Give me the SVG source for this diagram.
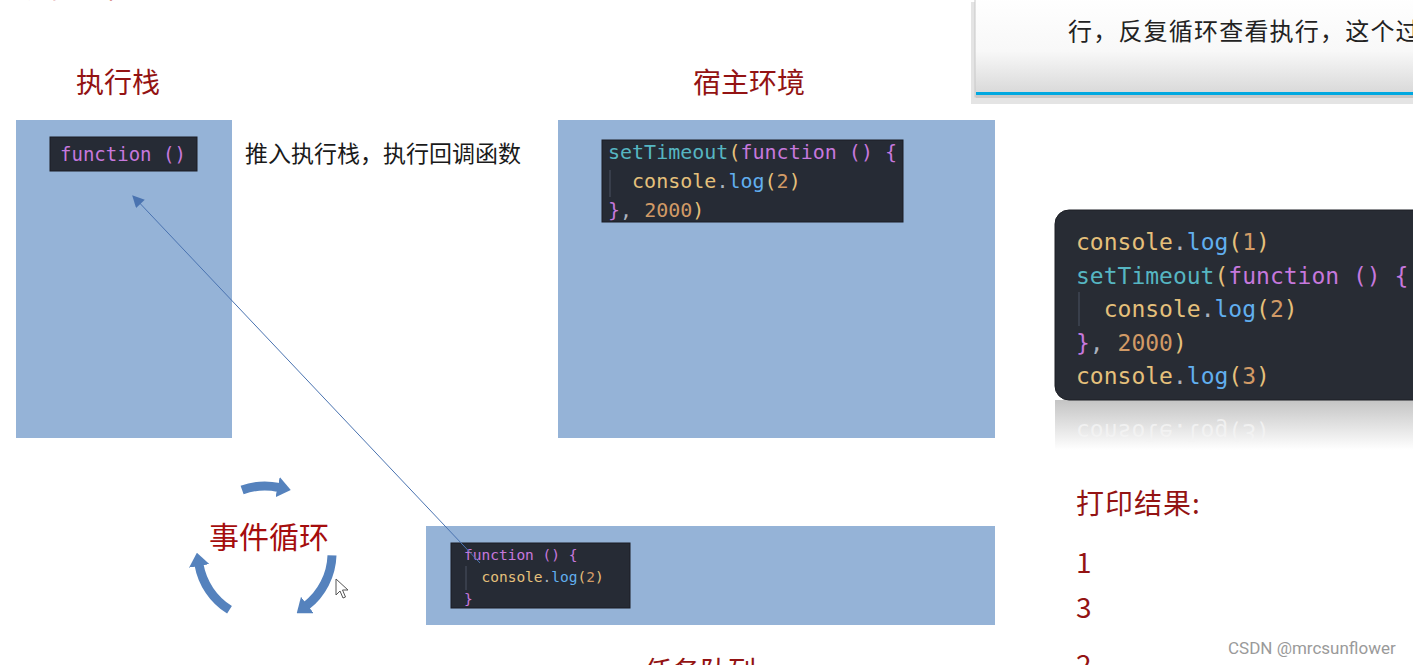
<svg xmlns="http://www.w3.org/2000/svg" width="1413" height="665" viewBox="0 0 1413 665">
<defs>
<style>
.title{font-family:"Noto Sans CJK SC","Noto Sans",sans-serif;fill:#931313;font-size:28px}
.cn{font-family:"Noto Sans CJK SC","Noto Sans",sans-serif;fill:#1a1a1a}
.panel{fill:#95b3d7}
.code{fill:#262b35}
.mono{font-family:"DejaVu Sans Mono","Liberation Mono",monospace}
.g{fill:#e5c07b}.t{fill:#56b6c2}.p{fill:#c678dd}.b{fill:#61afef}.o{fill:#d19a66}.w{fill:#abb2bf}
.loop{fill:none;stroke:#5582bd;stroke-width:9}
</style>
<marker id="bigHead" viewBox="0 0 10 10" refX="1" refY="5" markerWidth="1.5" markerHeight="2.3" orient="auto" preserveAspectRatio="none">
<path d="M0,0 L10,5 L0,10 z" fill="#5582bd"/>
</marker>
<marker id="thinHead" viewBox="0 0 10 10" refX="9" refY="5" markerWidth="14" markerHeight="12" markerUnits="userSpaceOnUse" orient="auto">
<path d="M0,0 L10,5 L0,10 z" fill="#4a73b0"/>
</marker>
<linearGradient id="popGrad" x1="0" y1="0" x2="0" y2="1">
<stop offset="0" stop-color="#ffffff"/>
<stop offset="0.55" stop-color="#f8f8f8"/>
<stop offset="1" stop-color="#d6d6d6"/>
</linearGradient>
<linearGradient id="reflGrad" x1="0" y1="0" x2="0" y2="1">
<stop offset="0" stop-color="#c4c4c4"/>
<stop offset="1" stop-color="#ffffff"/>
</linearGradient>
</defs>
<rect x="0" y="0" width="1413" height="665" fill="#ffffff"/>

<g id="page-title">
<text class="title" x="20" y="-2" style="fill:#c0302a">执行过程</text>
</g>

<g id="exec-stack">
<text class="title" x="118" y="93" text-anchor="middle">执行栈</text>
<rect class="panel" x="16" y="120" width="216" height="318"/>
<rect class="code" x="50" y="137" width="147" height="34" stroke="#1a1d24" stroke-width="1"/>
<text class="mono p" x="60" y="161" font-size="19">function ()</text>
</g>

<g id="push-label">
<text class="cn" x="245" y="162" font-size="23">推入执行栈，执行回调函数</text>
</g>

<g id="host-env">
<text class="title" x="749" y="93" text-anchor="middle">宿主环境</text>
<rect class="panel" x="558" y="120" width="437" height="318"/>
<rect class="code" x="602" y="140" width="301" height="82" stroke="#1a1d24" stroke-width="1"/>
<line x1="610" y1="170" x2="610" y2="197" stroke="#4b5263" stroke-width="1"/>
<text class="mono" x="608" y="159" font-size="20"><tspan class="t">setTimeout</tspan><tspan class="g">(</tspan><tspan class="p">function () {</tspan></text>
<text class="mono" x="608" y="188" font-size="20" xml:space="preserve"><tspan class="g">  console</tspan><tspan class="w">.</tspan><tspan class="b">log</tspan><tspan class="g">(</tspan><tspan class="o">2</tspan><tspan class="g">)</tspan></text>
<text class="mono" x="608" y="217" font-size="20" xml:space="preserve"><tspan class="p">}</tspan><tspan class="w">, </tspan><tspan class="o">2000</tspan><tspan class="g">)</tspan></text>
</g>

<g id="task-queue">
<rect class="panel" x="426" y="526" width="569" height="99"/>
<rect class="code" x="451" y="543" width="179" height="65" stroke="#1a1d24" stroke-width="1"/>
<line x1="466" y1="566" x2="466" y2="590" stroke="#4b5263" stroke-width="1"/>
<text class="mono p" x="464" y="560" font-size="14.5">function () {</text>
<text class="mono" x="464" y="582" font-size="14.5" xml:space="preserve"><tspan class="g">  console</tspan><tspan class="w">.</tspan><tspan class="b">log</tspan><tspan class="g">(</tspan><tspan class="o">2</tspan><tspan class="g">)</tspan></text>
<text class="mono p" x="464" y="604" font-size="14.5">}</text>
<text class="title" x="700" y="682" text-anchor="middle">任务队列</text>
</g>

<g id="event-loop">
<path class="loop" d="M242.1,490 A67,67 0 0 1 278.9,487.5" marker-end="url(#bigHead)"/>
<path class="loop" d="M332,555.3 A67,67 0 0 1 306.3,605.8" marker-end="url(#bigHead)"/>
<path class="loop" d="M229.5,609.8 A67,67 0 0 1 199,564.6" marker-end="url(#bigHead)"/>
<text class="title" x="269" y="548" text-anchor="middle" style="fill:#a50d0d;font-size:30px">事件循环</text>
</g>

<g id="cursor">
<path d="M336,579 L336,595 L340,591 L343,598 L345.5,597 L342.5,590 L348,590 z" fill="#ffffff" stroke="#555555" stroke-width="1"/>
</g>

<g id="popup">
<rect x="971" y="2" width="450" height="102" fill="#e4e4e4"/>
<rect x="975" y="-5" width="445" height="102" fill="url(#popGrad)" stroke="#c8c8c8" stroke-width="1"/>
<rect x="976" y="92" width="437" height="3" fill="#00a8e0"/>
<rect x="976" y="95" width="437" height="3" fill="#c8c8c8"/>
<text class="cn" x="1068" y="40" font-size="24" letter-spacing="1.2" style="fill:#222222">行，反复循环查看执行，这个过</text>
</g>

<g id="code-card">
<rect x="1055" y="400" width="370" height="50" fill="url(#reflGrad)"/>
<text class="mono" x="1076" y="384" font-size="23" transform="translate(0,808) scale(1,-1)" fill="#f4f4f4" opacity="0.85">console.log(3)</text>
<rect x="1055" y="210" width="380" height="190" rx="14" ry="14" fill="#282c34" stroke="#1c1f25" stroke-width="1"/>
<line x1="1079" y1="292" x2="1079" y2="326" stroke="#4b5263" stroke-width="1"/>
<text class="mono" x="1076" y="250" font-size="23"><tspan class="g">console</tspan><tspan class="w">.</tspan><tspan class="b">log</tspan><tspan class="g">(</tspan><tspan class="o">1</tspan><tspan class="g">)</tspan></text>
<text class="mono" x="1076" y="284" font-size="23"><tspan class="t">setTimeout</tspan><tspan class="g">(</tspan><tspan class="p">function () {</tspan></text>
<text class="mono" x="1076" y="317" font-size="23" xml:space="preserve"><tspan class="g">  console</tspan><tspan class="w">.</tspan><tspan class="b">log</tspan><tspan class="g">(</tspan><tspan class="o">2</tspan><tspan class="g">)</tspan></text>
<text class="mono" x="1076" y="351" font-size="23" xml:space="preserve"><tspan class="p">}</tspan><tspan class="w">, </tspan><tspan class="o">2000</tspan><tspan class="g">)</tspan></text>
<text class="mono" x="1076" y="384" font-size="23"><tspan class="g">console</tspan><tspan class="w">.</tspan><tspan class="b">log</tspan><tspan class="g">(</tspan><tspan class="o">3</tspan><tspan class="g">)</tspan></text>
</g>

<g id="print-result">
<text class="title" x="1076" y="514" letter-spacing="1">打印结果:</text>
<text class="title" x="1076" y="573">1</text>
<text class="title" x="1076" y="618">3</text>
<text class="title" x="1076" y="675">2</text>
<text x="1228" y="654" font-family="Roboto,'Liberation Sans',sans-serif" font-size="17" fill="#9a9a9a">CSDN @mrcsunflower</text>
</g>

<g id="connectors">
<line x1="480" y1="563" x2="133" y2="196" stroke="#4a73b0" stroke-width="1" marker-end="url(#thinHead)"/>
</g>
</svg>
